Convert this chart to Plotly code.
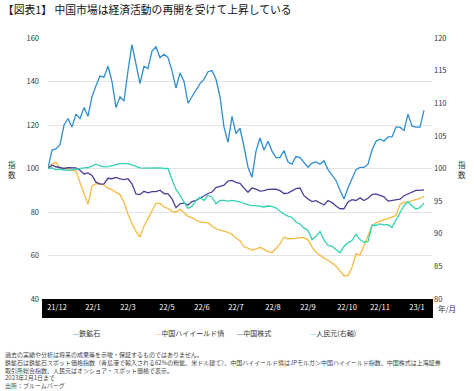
import plotly.graph_objects as go

# ---------------- data ----------------
x_index = list(range(95))

iron_ore = [100, 108.5, 109, 111, 120, 123, 119, 125, 123, 128,
            124, 133, 138, 142.5, 142, 147, 140, 128, 133, 131,
            145, 157, 148, 139, 147, 146, 154, 156, 151, 152.5,
            151, 145, 137, 144, 140, 130, 133, 136, 139, 141,
            144.5, 145, 141, 133, 119, 112, 124, 116, 118.5, 110,
            100.6, 96, 108, 114, 108.5, 112.5, 108, 105, 105, 108.3,
            103, 102, 105.5, 105, 103, 100.6, 102.5, 103, 102, 103.5,
            99.5, 97, 94.5, 90, 86, 91, 95, 99.5, 100.5, 100.5,
            102, 108.5, 112.5, 113.5, 112.5, 114.5, 114.5, 119, 119, 117.5,
            125, 119.5, 119, 119, 126.7]

hy_bond = [100, 102, 102.8, 100.2, 100, 100, 99.2, 98.8, 93.5, 88,
           83.5, 92, 93, 93, 92.4, 91, 90.3, 89, 88, 84.5,
           79, 74.6, 71, 68.5, 73.5, 77, 80.3, 84, 84, 82.3,
           81.7, 80.3, 80, 81.3, 79.5, 78, 77.4, 76.2, 75.5, 75.3,
           75, 73.6, 72.3, 71.7, 71.2, 70.6, 69.8, 68, 66.8, 64,
           63.4, 62.5, 63, 63.7, 62.8, 61.8, 61.4, 63.2, 65.5, 68.5,
           67.7, 67.7, 67.9, 68.2, 68.2, 67.2, 64, 61.5, 60, 58.8,
           57.8, 56.5, 55.2, 52.8, 50.7, 50.8, 54.5, 60.8, 60.2, 64.5,
           69, 73.6, 75, 75.8, 76.5, 77, 77.7, 78.4, 83.5, 84.5,
           84.5, 85.3, 85.8, 86.3, 87.2]

cn_equity = [100, 101.5, 100.8, 100.5, 100, 100.4, 100.2, 100.3, 99.2, 97.5,
             98, 96.8, 93.7, 92.8, 92.9, 95.5, 95.3, 95.9, 95.2, 94.9,
             95.3, 93, 88.3, 88, 89.5, 88.8, 89.4, 89.4, 90, 88.5,
             88.3, 86, 82, 83.8, 84.2, 83.2, 84.8, 85.3, 86.3, 87.5,
             88.5, 89.2, 91.2, 91.8, 92.3, 94.2, 94.5, 93.6, 93.2, 91,
             89.1, 91, 90.5, 89.6, 89.8, 90.4, 90.6, 90.5, 89.8, 88.5,
             88.7, 89.6, 90.7, 91, 87.5, 86, 84.8, 85.2, 84.1, 83.2,
             85.3, 84.3, 82.8, 81.5, 81.5, 84.6, 85.7, 85.3, 86.5, 85.3,
             86.3, 88, 88.3, 87.6, 87, 85, 85.2, 85.6, 85.9, 87.5,
             88.4, 89.3, 89.9, 89.9, 90.2]

cny = [100, 100.1, 99.8, 99.9, 99.77, 99.7, 99.8, 99.9, 100.1, 100.1,
       100.15, 100.35, 100.65, 100.4, 100.25, 100.3, 100.4, 100.6, 100.75, 100.8,
       100.75, 100.55, 100.3, 100.1, 100.05, 100.05, 100.15, 100.15, 100.1, 100,
       100, 98.3, 96.8, 95.9, 94.9, 93.9, 94.2, 95.1, 95.6, 95.1,
       95.9, 95.6, 94.6, 95.1, 95.1, 95, 95.1, 95, 94.9, 94.6,
       94.4, 94.3, 94.3, 94.2, 94.1, 94.25, 94.2, 93.95, 93.5, 93,
       92.7, 92.5, 91.8, 91.5, 90.9, 90.5, 89.1, 89.6, 90.35, 89.05,
       88.2, 88.1, 87.6, 87.1, 88.05, 88.65, 88.95, 89.9, 89.1, 88.7,
       88.8, 91.3, 91.3, 91.5, 91.35, 91.4, 91, 92.05, 93.3, 94.3,
       94.9, 94.25, 93.8, 94, 94.7]

tick_pos = [2.25, 11.25, 20, 29.75, 38.5, 47, 56.25, 65, 74.75, 83, 92.25]
tick_text = ["21/12", "22/1", "22/3", "22/5", "22/6", "22/7", "22/8", "22/9", "22/10", "22/11", "23/1"]

series_names = ["鉄鉱石", "中国ハイイールド債", "中国株式", "人民元(右軸)"]
colors = ["#2f8dd0", "#f7b93e", "#4b3f98", "#33d2b4"]

FONT = "Noto Sans CJK JP"

# geometry helpers (pixels -> paper)
PL, PR, PT, PB = 48, 432, 38, 299
def px(xp):
    return (xp - PL) / (PR - PL)
def py(yp):
    return (PB - yp) / (PB - PT)

legend_ids = ["legend", "legend2", "legend3", "legend4"]
legend_dash_px = [73, 155, 237, 310]

fig = go.Figure()
for name, vals, col, ax in zip(series_names, [iron_ore, hy_bond, cn_equity, cny], colors,
                               ["y", "y", "y", "y2"]):
    fig.add_trace(go.Scatter(x=x_index, y=vals, name=name, mode="lines",
                             line=dict(color=col, width=1.3), yaxis=ax, showlegend=False))

# legend entries: short coloured dash in front of the name (as in the reference)
for name, col, lg in zip(series_names, colors, legend_ids):
    fig.add_trace(go.Scatter(x=[None], y=[None], mode="lines", line=dict(color=col, width=0),
                             name=f"<span style='color:{col}'>—</span>{name}",
                             legend=lg, showlegend=True, hoverinfo="skip"))

legend_common = dict(orientation="h", xanchor="left", y=py(333), yanchor="middle",
                     font=dict(size=7, color="#333333", family=FONT), itemwidth=30,
                     bgcolor="rgba(0,0,0,0)", borderwidth=0)
layout_legends = {}
for lg, xp in zip(legend_ids, legend_dash_px):
    layout_legends[lg] = dict(x=px(xp - 40), **legend_common)

fig.update_layout(
    width=474, height=391,
    margin=dict(l=PL, r=474 - PR, t=PT, b=391 - PB),
    paper_bgcolor="white", plot_bgcolor="white",
    font=dict(family=FONT, size=7.5, color="#333333"),
    showlegend=True,
    xaxis=dict(range=[0, 96], showgrid=False, zeroline=False, showline=False,
               tickmode="array", tickvals=tick_pos, ticktext=tick_text,
               tickfont=dict(color="white", size=7.5), ticks="", ticklabelstandoff=2),
    yaxis=dict(range=[40, 160], dtick=20, showgrid=True, gridcolor="#e4e4e4", gridwidth=1,
               zeroline=False, showline=False, ticks="", ticklabelstandoff=8,
               tickfont=dict(size=7.5, color="#333333")),
    yaxis2=dict(range=[80, 120], dtick=5, overlaying="y", side="right", showgrid=False,
                zeroline=False, showline=False, ticks="", ticklabelstandoff=1,
                tickfont=dict(size=7.5, color="#333333")),
    title=dict(text="【図表1】 中国市場は経済活動の再開を受けて上昇している",
               x=0.006, xanchor="left", y=0.974, yanchor="middle", yref="container",
               font=dict(family=FONT, size=10.8, color="#111111")),
    **layout_legends,
)

# black band behind x tick labels
fig.add_shape(type="rect", xref="paper", yref="paper",
              x0=px(42), x1=px(433), y0=0, y1=py(318),
              fillcolor="black", line=dict(width=0), layer="below")

for text, xp, yp in [("指<br>数", 12, 169), ("指<br>数", 462, 169), ("年/月", 447, 308)]:
    fig.add_annotation(text=text, xref="paper", yref="paper", x=px(xp), y=py(yp),
                       showarrow=False, xanchor="center", yanchor="middle",
                       font=dict(size=7.5, color="#333333"))

notes = [
    "過去の実績や分析は将来の成果等を示唆・保証するものではありません。",
    "鉄鉱石は鉄鉱石スポット価格指数（青島港で輸入される62%の粉鉱、米ドル建て）、中国ハイイールド債はJPモルガン中国ハイイールド指数、中国株式は上海証券",
    "取引所総合指数、人民元はオンショア・スポット価格で表示。",
    "2023年2月1日まで",
    "出所：ブルームバーグ",
]
fig.add_annotation(text="<br>".join(notes), xref="paper", yref="paper",
                   x=px(3), y=py(370), showarrow=False, xanchor="left", yanchor="middle",
                   align="left", font=dict(size=6.0, color="#444444"))

fig.write_html("out.html")
